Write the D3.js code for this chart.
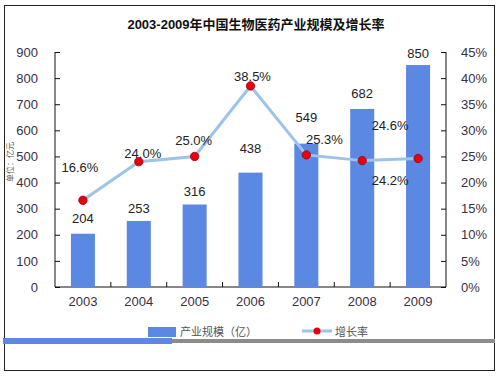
<!DOCTYPE html>
<html>
<head>
<meta charset="utf-8">
<script src="https://cdn.jsdelivr.net/npm/d3@7"></script>
<style>
body{margin:0;background:#fff;}
text{font-family:Arial,"Liberation Sans","Noto Sans CJK SC",sans-serif;}
</style>
</head>
<body>
<div id="chart"></div>
<script>
// data
let years=["2003","2004","2005","2006","2007","2008","2009"]
let scale=[204,253,316,438,549,682,850]
let growth=[16.6,24.0,25.0,38.5,25.3,24.2,24.6]
let growthText=["16.6%","24.0%","25.0%","38.5%","25.3%","24.2%","24.6%"]
let leftTicks=[0,100,200,300,400,500,600,700,800,900]
let rightTicks=[0,5,10,15,20,25,30,35,40,45]

// label nudges (layout only)
let barLabelLift=[11,8,8,20,22,11,7]
let pctLabelShift=[[-3,-28],[4,-4],[-1,-11],[2,-5],[18,-11],[28,24],[-28,-29]]

let svgWidth=500
let svgHeight=380
let margin={top:52,right:54,bottom:93,left:55}
let chartwidth=446-margin.left
let chartheight=287-margin.top

let svg=d3.select("#chart")
  .append("svg")
  .attr("width",svgWidth)
  .attr("height",svgHeight)

//frame
svg.append("rect")
  .attr("x",4.5).attr("y",5.5)
  .attr("width",490).attr("height",365)
  .attr("fill","#fff").attr("stroke","#222").attr("stroke-width",1)

svg.append("text")
  .attr("x",256).attr("y",29)
  .attr("text-anchor","middle")
  .attr("font-size",13).attr("font-weight","bold")
  .attr("fill","#111")
  .text("2003-2009年中国生物医药产业规模及增长率")

let chartGroup=svg.append("g")
  .attr("transform",`translate(${margin.left},${margin.top})`)

//scales
let x=d3.scaleBand().domain(years).range([0,chartwidth]).paddingInner(0.57).paddingOuter(0.285)
let xPoint=d=>x(d)+x.bandwidth()/2
let yLeft=d3.scaleLinear().domain([0,900]).range([chartheight,0])
let yRight=d3.scaleLinear().domain([0,45]).range([chartheight,0])

//axes
let leftAxis=d3.axisLeft(yLeft).tickValues(leftTicks).tickSize(5).tickPadding(12)
let rightAxis=d3.axisRight(yRight).tickValues(rightTicks).tickSize(5).tickPadding(10).tickFormat(d=>d+"%")
let bottomAxis=d3.axisBottom(d3.scaleBand().domain(years).range([0,chartwidth])).tickSize(0).tickPadding(10)

let gl=chartGroup.append("g").call(leftAxis)
let gr=chartGroup.append("g").attr("transform",`translate(${chartwidth},0)`).call(rightAxis)
let gb=chartGroup.append("g").attr("transform",`translate(0,${chartheight})`).call(bottomAxis)
;[gl,gr,gb].forEach(g=>{
  g.selectAll("text").attr("font-size",13).attr("fill","#3a2f45").attr("font-family","Arial,'Liberation Sans',sans-serif")
  g.select(".domain").attr("stroke","#111")
  g.selectAll(".tick line").attr("stroke","#111")
})
gl.selectAll(".tick line").attr("x2",5).attr("x1",0)
gr.selectAll(".tick line").attr("x2",-5)
// category separator ticks on x axis
chartGroup.selectAll(".xsep")
  .data(years.slice(1))
  .enter().append("line")
  .attr("x1",d=>x(d)-x.step()*0.285)
  .attr("x2",d=>x(d)-x.step()*0.285)
  .attr("y1",chartheight).attr("y2",chartheight-5)
  .attr("stroke","#111")

gl.select(".domain").attr("d",`M0,0V${chartheight}`)
gr.select(".domain").attr("d",`M0,0V${chartheight}`)
gb.select(".domain").attr("d",`M0,0H${chartwidth}`)

//bars
chartGroup.selectAll(".bar")
  .data(scale)
  .enter().append("rect")
  .attr("x",(d,i)=>x(years[i]))
  .attr("y",d=>yLeft(d))
  .attr("width",x.bandwidth())
  .attr("height",d=>chartheight-yLeft(d))
  .attr("fill","#5b88e2")

chartGroup.selectAll(".barlabel")
  .data(scale)
  .enter().append("text")
  .attr("x",(d,i)=>xPoint(years[i]))
  .attr("y",(d,i)=>yLeft(d)-barLabelLift[i])
  .attr("text-anchor","middle")
  .attr("font-size",13).attr("fill","#222")
  .text(d=>d)

//line
let line=d3.line().x((d,i)=>xPoint(years[i])).y(d=>yRight(d))
chartGroup.append("path")
  .datum(growth)
  .attr("d",line)
  .attr("fill","none").attr("stroke","#9cc4ea").attr("stroke-width",3)

chartGroup.selectAll(".dot")
  .data(growth)
  .enter().append("circle")
  .attr("cx",(d,i)=>xPoint(years[i]))
  .attr("cy",d=>yRight(d))
  .attr("r",4.2)
  .attr("fill","#e8000b").attr("stroke","#a00010").attr("stroke-width",0.8)

chartGroup.selectAll(".pctlabel")
  .data(growth)
  .enter().append("text")
  .attr("x",(d,i)=>xPoint(years[i])+pctLabelShift[i][0])
  .attr("y",(d,i)=>yRight(d)+pctLabelShift[i][1])
  .attr("text-anchor","middle")
  .attr("font-size",13).attr("fill","#222")
  .text((d,i)=>growthText[i])

//axis title
svg.append("text")
  .attr("transform","translate(13,162) rotate(-90)")
  .attr("text-anchor","middle")
  .attr("font-size",8).attr("fill","#555")
  .text("单位：亿元")

//legend
svg.append("rect").attr("x",148).attr("y",327).attr("width",28).attr("height",10).attr("fill","#5b88e2")
svg.append("text").attr("x",180).attr("y",336).attr("font-size",11).attr("fill","#555").text("产业规模（亿）")
svg.append("line").attr("x1",302).attr("x2",332).attr("y1",331).attr("y2",331).attr("stroke","#9cc4ea").attr("stroke-width",3)
svg.append("circle").attr("cx",317).attr("cy",331).attr("r",3.5).attr("fill","#e8000b")
svg.append("text").attr("x",335).attr("y",336).attr("font-size",11).attr("fill","#555").text("增长率")

//scrollbar strip
svg.append("rect").attr("x",3).attr("y",339).attr("width",492).attr("height",4).attr("fill","#8c8c8c")
svg.append("rect").attr("x",3).attr("y",338).attr("width",169).attr("height",6).attr("fill","#5b88e2")
</script>
</body>
</html>
